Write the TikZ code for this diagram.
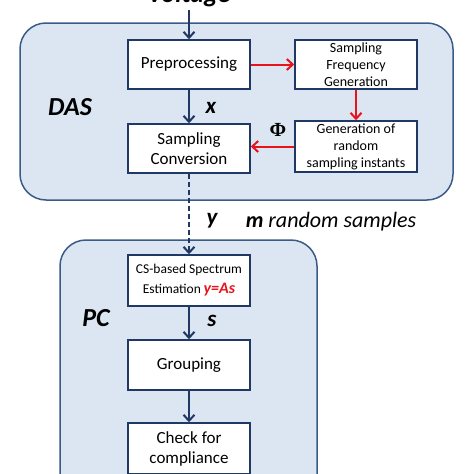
\documentclass[tikz,border=0pt]{standalone}
\usepackage{fontspec}
\setmainfont{Carlito}
\newfontfamily\phifont{Liberation Serif}
\usetikzlibrary{arrows.meta}
\definecolor{boxfill}{HTML}{DCE6F2}
\definecolor{boxline}{HTML}{3B5B87}
\definecolor{navy}{HTML}{1F3864}
\definecolor{redarr}{HTML}{E8141B}
\tikzset{
  block/.style={draw=navy,line width=1.5pt,fill=white,minimum width=122pt,minimum height=49pt,align=center,inner sep=2pt,font=\fontsize{17}{20}\selectfont},
  small/.style={font=\fontsize{14}{17}\selectfont},
  group/.style={draw=boxline,line width=1.5pt,fill=boxfill,rounded corners=26pt},
  bluearr/.style={draw=navy,line width=2pt,-{Straight Barb[length=6pt,width=11pt]}},
  redarr/.style={draw=redarr,line width=2pt,-{Straight Barb[length=6pt,width=11pt]}},
  tag/.style={font=\fontsize{26}{30}\selectfont\bfseries\itshape},
  sym/.style={font=\fontsize{23}{26}\selectfont\bfseries\itshape}
}
\begin{document}
\begin{tikzpicture}[x=1pt,y=-1pt]
\useasboundingbox(0,0)rectangle(474,474);
\clip(0,0)rectangle(474,474);
% the two groups
\draw[group](20,23)rectangle(453,200);
\draw[group](60,240)rectangle(317,520);
% blocks
\node[block](pre)at(189,64.5){Preprocessing};
\node[block,small](freq)at(356,64.5){Sampling\\Frequency\\Generation};
\node[block](conv)at(189,148.5){Sampling\\Conversion};
\node[block,small,minimum height=51pt](rand)at(356,146.5){Generation of\\random\\sampling instants};
\node[block,minimum height=51pt](cs)at(189,280.5){{\fontsize{13.5}{16}\selectfont CS-based Spectrum}\\{\fontsize{13.5}{16}\selectfont Estimation}\,{\color{redarr}\fontsize{16}{18}\selectfont\bfseries\itshape y=As}};
\node[block,minimum height=50pt](grp)at(189,365){Grouping};
\node[block,minimum height=51pt](chk)at(189,448.5){Check for\\compliance};
% labels
\node[tag,anchor=base](volt)at(189,2){Voltage};
\node[tag](das)at(70,107){DAS};
\node[tag](pc)at(96,318){PC};
\node[sym](xl)at(211,108){x};
\node[sym](sl)at(212,321){s};
\node[sym](yl)at(212,221){y};
\node[font=\fontsize{20}{24}\selectfont\phifont\bfseries](phi)at(278,130){Φ};
\node[font=\fontsize{22}{26}\selectfont\itshape](ms)at(331,222){\textbf{m} random samples};
% connectors
\draw[bluearr](volt.south)--(pre.north);
\draw[bluearr](pre)--(conv);
\draw[redarr](pre)--(freq);
\draw[redarr](freq)--(rand);
\draw[redarr](rand.west)--(conv.east|-rand.west);
\draw[bluearr,dash pattern=on 5pt off 3pt](conv)--(cs);
\draw[bluearr](cs)--(grp);
\draw[bluearr](grp)--(chk);
\end{tikzpicture}
\end{document}
